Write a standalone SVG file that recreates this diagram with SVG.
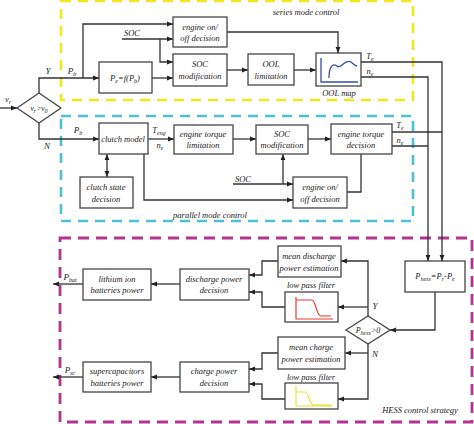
<svg xmlns="http://www.w3.org/2000/svg" width="474" height="424" viewBox="0 0 474 424">
<defs>
<marker id="a" viewBox="0 0 10 10" refX="10" refY="5" markerWidth="7" markerHeight="6" markerUnits="userSpaceOnUse" orient="auto-start-reverse"><path d="M0,1 L10,5 L0,9z" fill="#222"/></marker>
<style>
.b{fill:#fff;stroke:#444;stroke-width:1.3}
.l{fill:none;stroke:#333;stroke-width:1.3}
.ar{marker-end:url(#a)}
text{font-family:"Liberation Serif","Times New Roman",serif;font-style:italic;font-size:8.5px;fill:#222;text-anchor:middle}
.s{font-size:6px}
.lab{font-size:9px}
.dy{fill:none;stroke:#f2e61c;stroke-width:2.6;stroke-dasharray:10 7}
.dc{fill:none;stroke:#4dbfd6;stroke-width:2.6;stroke-dasharray:10 7}
.dm{fill:none;stroke:#b3348f;stroke-width:2.8;stroke-dasharray:11 7}
</style>
</defs>
<rect class="dy" x="61" y="1" width="352" height="99"/>
<rect class="dc" x="61" y="116" width="352" height="105"/>
<rect class="dm" x="60" y="238" width="412" height="184"/>
<text x="306" y="15">series mode control</text>
<text x="210" y="218">parallel mode control</text>
<text x="420" y="413">HESS control strategy</text>

<g id="connectors">
<path class="l ar" d="M0,108 H17"/>
<path class="l ar" d="M39,93 V78 H99"/>
<path class="l ar" d="M83,78 V24 H173"/>
<path class="l ar" d="M122,39 H173"/>
<path class="l ar" d="M160,39 V62 H173"/>
<path class="l ar" d="M152,78 H173"/>
<path class="l ar" d="M227,70 H248"/>
<path class="l ar" d="M294,70 H316"/>
<path class="l ar" d="M227,32 H338 V53"/>
<path class="l ar" d="M361,62 H442 V261"/>
<path class="l ar" d="M361,77 H428 V261"/>
<path class="l ar" d="M39,123 V139 H99"/>
<path class="l ar" d="M148,139 H174"/>
<path class="l ar" d="M233,139 H256"/>
<path class="l ar" d="M308,139 H331"/>
<path class="l" d="M392,132 H442"/>
<path class="l" d="M392,146 H428"/>
<path class="l ar" d="M107,154 V177" marker-start="url(#a)"/>
<path class="l ar" d="M144,154 V200 H293"/>
<path class="l ar" d="M233,184 H293"/>
<path class="l ar" d="M283,184 V154"/>
<path class="l" d="M347,192 H361 V154"/>
<path class="l ar" d="M435,292 V330 H390"/>
<path class="l ar" d="M368,316 V261 H341"/>
<path class="l ar" d="M368,307 H338"/>
<path class="l ar" d="M278,261 H262 V275 H249"/>
<path class="l ar" d="M285,307 H262 V292 H249"/>
<path class="l ar" d="M180,284 H151"/>
<path class="l ar" d="M83,284 H53"/>
<path class="l ar" d="M368,344 V399 H338"/>
<path class="l ar" d="M368,353 H345"/>
<path class="l ar" d="M278,353 H262 V369 H249"/>
<path class="l ar" d="M285,399 H262 V384 H249"/>
<path class="l ar" d="M180,377 H151"/>
<path class="l ar" d="M83,377 H53"/>
</g>

<g id="labels">
<text x="8" y="102">v<tspan class="s" dy="2">r</tspan></text>
<text x="48" y="74" class="lab">Y</text>
<text x="72" y="74" class="lab">P<tspan class="s" dy="2">b</tspan></text>
<text x="132" y="36">SOC</text>
<text x="370" y="59">T<tspan class="s" dy="2">e</tspan></text>
<text x="370" y="74">n<tspan class="s" dy="2">e</tspan></text>
<text x="47" y="149" class="lab">N</text>
<text x="78" y="133" class="lab">P<tspan class="s" dy="2">b</tspan></text>
<text x="159" y="133">T<tspan class="s" dy="2">eng</tspan></text>
<text x="160" y="148">n<tspan class="s" dy="2">e</tspan></text>
<text x="400" y="128">T<tspan class="s" dy="2">e</tspan></text>
<text x="400" y="143">n<tspan class="s" dy="2">e</tspan></text>
<text x="243" y="182">SOC</text>
<text x="375" y="309" class="lab">Y</text>
<text x="375" y="357" class="lab">N</text>
<text x="70" y="280" class="lab">P<tspan class="s" dy="2">bat</tspan></text>
<text x="70" y="373" class="lab">P<tspan class="s" dy="2">sc</tspan></text>
</g>

<g id="decision1"><path class="b" d="M17,108 L39,93 L61,108 L39,123Z"/><text x="39" y="111" style="font-size:7.5px">v<tspan class="s" dy="2">r</tspan><tspan dy="-2">&gt;v</tspan><tspan class="s" dy="2">0</tspan></text></g>
<g id="pe"><rect class="b" x="99" y="62" width="53" height="31"/><text x="125" y="81">P<tspan class="s" dy="2">e</tspan><tspan dy="-2">=f(P</tspan><tspan class="s" dy="2">b</tspan><tspan dy="-2">)</tspan></text></g>
<g id="onoff1"><rect class="b" x="173" y="17" width="54" height="30"/><text x="200" y="30">engine on/</text><text x="200" y="41">off decision</text></g>
<g id="socmod1"><rect class="b" x="173" y="54" width="54" height="32"/><text x="200" y="67">SOC</text><text x="200" y="79">modification</text></g>
<g id="ool"><rect class="b" x="248" y="54" width="46" height="31"/><text x="271" y="67">OOL</text><text x="271" y="79">limitation</text></g>
<g id="oolmap"><rect class="b" x="316" y="53" width="45" height="33"/>
<path d="M321,58 V82 H358" fill="none" stroke="#3a4aa8" stroke-width="1.3"/>
<path d="M329,78 C329,66 333,63 337,66 C341,70 345,58 351,62 C354,64 355,66 357,66" fill="none" stroke="#3a4aa8" stroke-width="1.3"/>
<text x="339" y="96">OOL map</text></g>

<g id="clutch"><rect class="b" x="99" y="123" width="49" height="31"/><text x="123" y="142">clutch model</text></g>
<g id="etl"><rect class="b" x="174" y="125" width="59" height="29"/><text x="203" y="137">engine torque</text><text x="203" y="148">limitation</text></g>
<g id="socmod2"><rect class="b" x="256" y="125" width="52" height="29"/><text x="282" y="137">SOC</text><text x="282" y="148">modification</text></g>
<g id="etd"><rect class="b" x="331" y="124" width="61" height="30"/><text x="361" y="137">engine torque</text><text x="361" y="148">decision</text></g>
<g id="clutchstate"><rect class="b" x="80" y="177" width="53" height="31"/><text x="106" y="190">clutch state</text><text x="106" y="202">decision</text></g>
<g id="onoff2"><rect class="b" x="293" y="177" width="54" height="31"/><text x="320" y="190">engine on/</text><text x="320" y="202">off decision</text></g>

<g id="phess"><rect class="b" x="405" y="261" width="60" height="31"/><text x="435" y="279">P<tspan class="s" dy="2">hess</tspan><tspan dy="-2">=P</tspan><tspan class="s" dy="2">r</tspan><tspan dy="-2">-P</tspan><tspan class="s" dy="2">e</tspan></text></g>
<g id="decision2"><path class="b" d="M346,330 L368,316 L390,330 L368,344Z"/><text x="368" y="333" style="font-size:8px">P<tspan class="s" dy="2">hess</tspan><tspan dy="-2">&gt;0</tspan></text></g>
<g id="meandis"><rect class="b" x="278" y="246" width="63" height="31"/><text x="309" y="259">mean discharge</text><text x="309" y="271">power estimation</text></g>
<g id="lpf1"><text x="311" y="288">low pass filter</text><rect class="b" x="285" y="292" width="53" height="30"/>
<path d="M296,297 V319 H333 M296,300 H312 C316,300 316,316 321,316 H331" fill="none" stroke="#e8392c" stroke-width="1.2"/></g>
<g id="dpd"><rect class="b" x="180" y="269" width="69" height="31"/><text x="214" y="282">discharge power</text><text x="214" y="293">decision</text></g>
<g id="lib"><rect class="b" x="83" y="269" width="68" height="31"/><text x="117" y="282">lithium ion</text><text x="117" y="293">batteries power</text></g>
<g id="meanch"><rect class="b" x="278" y="337" width="67" height="32"/><text x="311" y="350">mean charge</text><text x="311" y="362">power estimation</text></g>
<g id="lpf2"><text x="311" y="380">low pass filter</text><rect class="b" x="285" y="383" width="53" height="26"/>
<path d="M296,386 V406 H333 M296,392 H305 C309,392 309,405 314,405 H331" fill="none" stroke="#efe23a" stroke-width="1.2"/></g>
<g id="cpd"><rect class="b" x="180" y="362" width="69" height="30"/><text x="214" y="374">charge power</text><text x="214" y="386">decision</text></g>
<g id="sc"><rect class="b" x="83" y="362" width="68" height="30"/><text x="117" y="374">supercapacitors</text><text x="117" y="386">batteries power</text></g>
</svg>
